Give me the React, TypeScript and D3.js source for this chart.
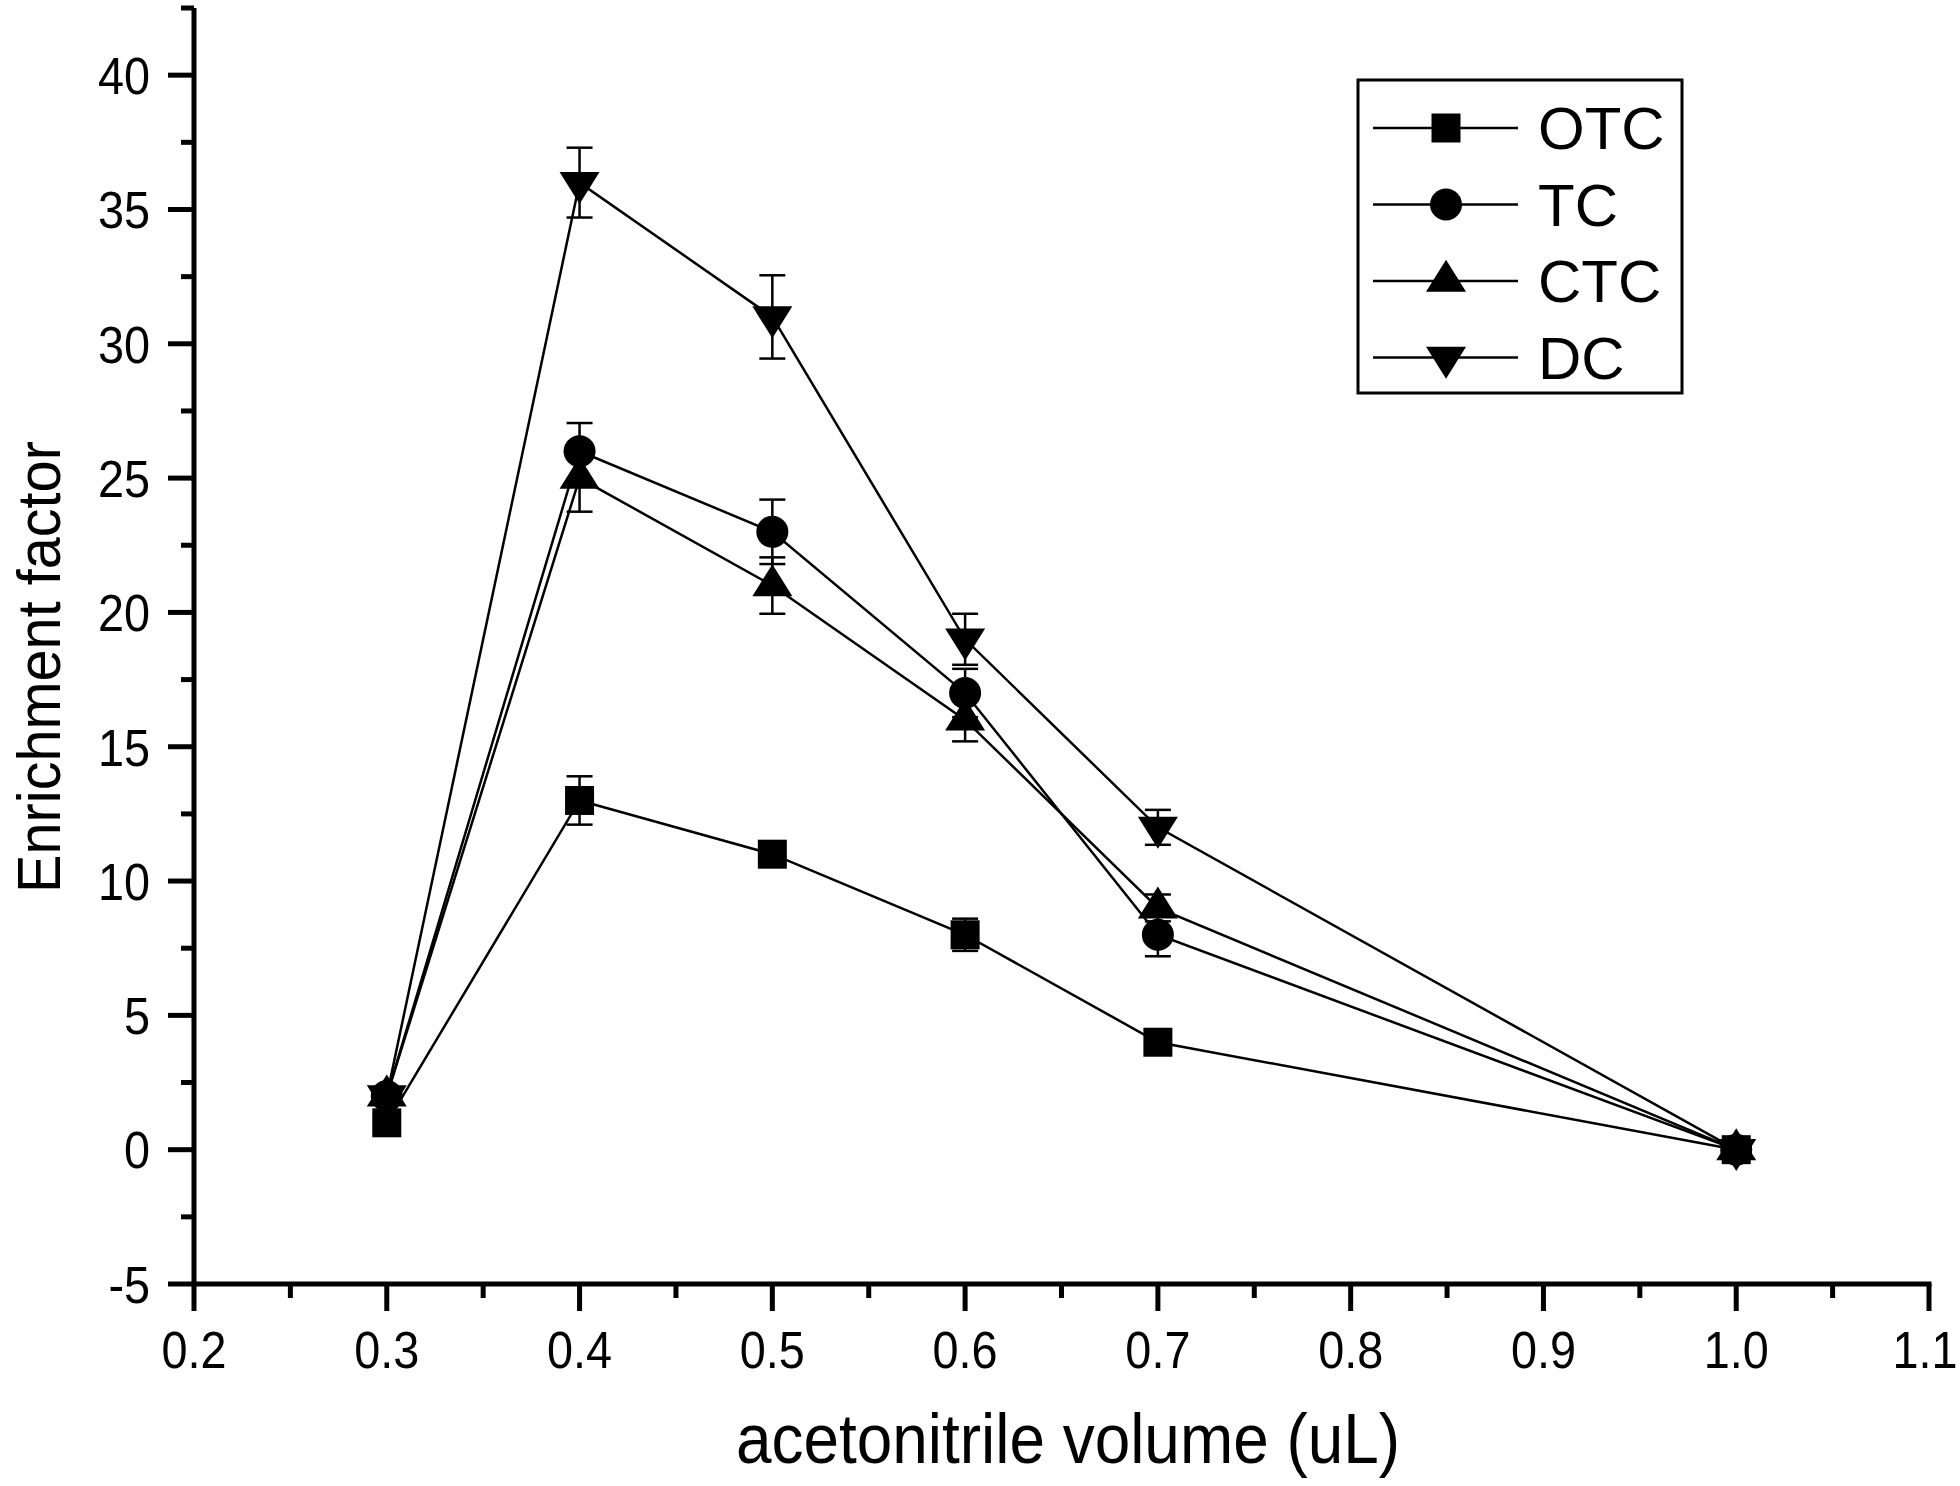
import { useEffect } from 'react';
import * as d3 from 'd3';

// acetonitrile volume (uL)
const volumes = [0.3, 0.4, 0.5, 0.6, 0.7, 1.0];

const seriesNames = ['OTC', 'TC', 'CTC', 'DC'];
const seriesShapes = ['square', 'circle', 'up', 'down'];

const otcValues = [1, 13, 11, 8, 4, 0];
const otcErrors = [0.2, 0.9, 0.4, 0.6, 0.3, 0];
const tcValues = [2, 26, 23, 17, 8, 0];
const tcErrors = [0.2, 1.05, 1.2, 0.9, 0.8, 0];
const ctcValues = [2, 25, 21, 16, 9, 0];
const ctcErrors = [0.2, 1.25, 1.05, 0.8, 0.5, 0];
const dcValues = [2, 36, 31, 19, 12, 0];
const dcErrors = [0.2, 1.3, 1.55, 0.95, 0.65, 0];

const allValues = [otcValues, tcValues, ctcValues, dcValues];
const allErrors = [otcErrors, tcErrors, ctcErrors, dcErrors];

const xMajorTicks = [0.2, 0.3, 0.4, 0.5, 0.6, 0.7, 0.8, 0.9, 1.0, 1.1];
const yMajorTicks = [-5, 0, 5, 10, 15, 20, 25, 30, 35, 40];

const W = 1960, H = 1486;
const FONT = "'Liberation Sans', Arial, sans-serif";

const x = d3.scaleLinear().domain([0.2, 1.1]).range([194, 1929]);
const y = d3.scaleLinear().domain([-5, 42.5]).range([1284, 8]);

function markerPath(shape: string) {
  if (shape === 'square') {
    const s = 14.5;
    return `M${-s},${-s}H${s}V${s}H${-s}Z`;
  }
  if (shape === 'circle') {
    const r = 16;
    return `M${r},0A${r},${r} 0 1,1 ${-r},0A${r},${r} 0 1,1 ${r},0Z`;
  }
  // triangles are centred on their centroid
  const w = 40, h = 32;
  if (shape === 'up') return `M0,${-2 * h / 3}L${w / 2},${h / 3}L${-w / 2},${h / 3}Z`;
  return `M0,${2 * h / 3}L${w / 2},${-h / 3}L${-w / 2},${-h / 3}Z`;
}

function Label({ tx, ty, size, sx = 0.9, anchor = 'start', rotate = false, children }: any) {
  return (
    <text
      transform={`translate(${tx},${ty})${rotate ? ' rotate(-90)' : ''} scale(${sx},1)`}
      fontSize={size}
      fontFamily={FONT}
      textAnchor={anchor}
      fill="#000"
    >
      {children}
    </text>
  );
}

export default function App() {
  useEffect(() => {
    document.body.style.margin = '0';
  }, []);

  const line = d3.line<number>()
    .x((_, i) => x(volumes[i]))
    .y(d => y(d));

  const xMinor = d3.range(0.25, 1.1, 0.1);
  const yMinor = d3.range(-2.5, 43, 5);

  const legendTop = 128, legendStep = 76.5;

  return (
    <svg width={W} height={H} viewBox={`0 0 ${W} ${H}`} style={{ display: 'block', background: '#fff' }}>
      {/* series: lines, error bars, markers */}
      {allValues.map((vals, si) => (
        <g key={seriesNames[si]}>
          <path d={line(vals) || ''} fill="none" stroke="#000" strokeWidth={2.5} />
          {vals.map((v, i) => {
            const e = allErrors[si][i];
            if (!e) return null;
            const cx = x(volumes[i]);
            return (
              <g key={i} stroke="#000" strokeWidth={2.5}>
                <line x1={cx} x2={cx} y1={y(v - e)} y2={y(v + e)} />
                <line x1={cx - 13} x2={cx + 13} y1={y(v + e)} y2={y(v + e)} />
                <line x1={cx - 13} x2={cx + 13} y1={y(v - e)} y2={y(v - e)} />
              </g>
            );
          })}
          {vals.map((v, i) => (
            <path key={'m' + i} d={markerPath(seriesShapes[si])}
              transform={`translate(${x(volumes[i])},${y(v)})`} fill="#000" />
          ))}
        </g>
      ))}

      {/* y axis */}
      <line x1={x(0.2)} x2={x(0.2)} y1={y(42.5)} y2={y(-5)} stroke="#000" strokeWidth={5} />
      {yMajorTicks.map(t => (
        <g key={'yt' + t}>
          <line x1={x(0.2) - 26} x2={x(0.2)} y1={y(t)} y2={y(t)} stroke="#000" strokeWidth={5} />
          <Label tx={150} ty={y(t) + 18.8} size={52} anchor="end">{t}</Label>
        </g>
      ))}
      {yMinor.map(t => (
        <line key={'ym' + t} x1={x(0.2) - 13} x2={x(0.2)} y1={y(t)} y2={y(t)} stroke="#000" strokeWidth={5} />
      ))}

      {/* x axis */}
      <line x1={x(0.2) - 2.5} x2={x(1.1) + 2.5} y1={y(-5)} y2={y(-5)} stroke="#000" strokeWidth={5} />
      {xMajorTicks.map(t => (
        <g key={'xt' + t}>
          <line x1={x(t)} x2={x(t)} y1={y(-5)} y2={y(-5) + 27} stroke="#000" strokeWidth={5} />
          <Label tx={Math.min(x(t), 1925)} ty={1368} size={52} anchor="middle">{t.toFixed(1)}</Label>
        </g>
      ))}
      {xMinor.map(t => (
        <line key={'xm' + t} x1={x(t)} x2={x(t)} y1={y(-5)} y2={y(-5) + 14} stroke="#000" strokeWidth={5} />
      ))}

      {/* axis titles */}
      <Label tx={1068} ty={1463} size={71} anchor="middle">acetonitrile volume (uL)</Label>
      <Label tx={60} ty={667} size={62} sx={0.93} anchor="middle" rotate>Enrichment factor</Label>

      {/* legend */}
      <rect x={1358} y={80} width={324} height={313} fill="#fff" stroke="#000" strokeWidth={3} />
      {seriesNames.map((name, i) => {
        const cy = legendTop + i * legendStep;
        return (
          <g key={'lg' + name}>
            <line x1={1373} x2={1518} y1={cy} y2={cy} stroke="#000" strokeWidth={2.5} />
            <path d={markerPath(seriesShapes[i])} transform={`translate(1446,${cy})`} fill="#000" />
            <Label tx={1538} ty={cy + 21} size={60} sx={1}>{name}</Label>
          </g>
        );
      })}
    </svg>
  );
}
